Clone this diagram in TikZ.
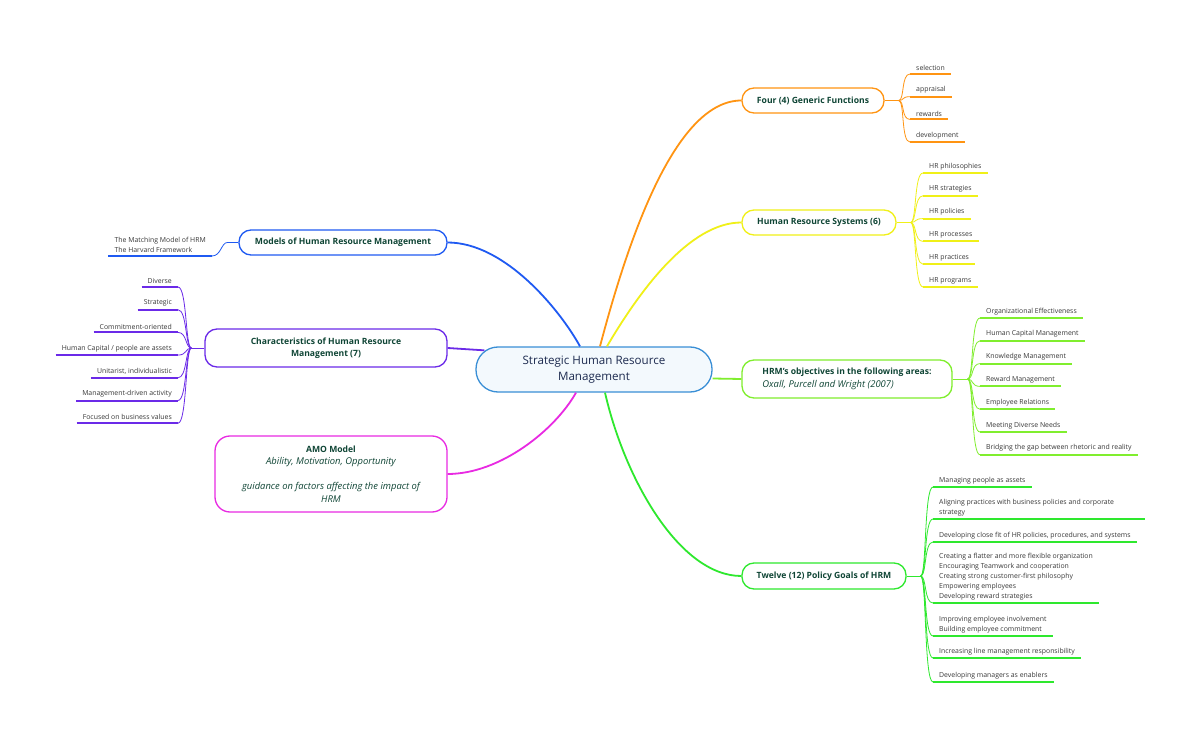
\documentclass[tikz,border=0pt]{standalone}
\usepackage{fontspec}
\setmainfont{Open Sans}
\usetikzlibrary{calc}

\definecolor{cOrange}{HTML}{FF9412}
\definecolor{cYellow}{HTML}{F0F018}
\definecolor{cLime}{HTML}{80EE2E}
\definecolor{cGreen}{HTML}{2EE82E}
\definecolor{cBlue}{HTML}{1F5AF2}
\definecolor{cPurple}{HTML}{6B2AE8}
\definecolor{cMagenta}{HTML}{E82AE2}
\definecolor{cCenter}{HTML}{3A8FD6}
\definecolor{cCenterFill}{HTML}{F3F9FD}
\definecolor{cCenterTxt}{HTML}{1C2A4F}
\definecolor{cTopicTxt}{HTML}{0F4535}
\definecolor{cLeafTxt}{HTML}{3A3A3A}

\newcommand\subtxt{\fontsize{9.4}{12.5}\selectfont\mdseries\itshape}

\tikzset{
  topic/.style={draw, line width=1.3pt, rounded corners=12pt, fill=white, text=cTopicTxt,
    font=\fontsize{8.6}{12.5}\selectfont\bfseries, align=center, inner sep=0pt, minimum height=25pt},
  leafR/.style={anchor=south west, inner xsep=6pt, inner ysep=3pt, text=cLeafTxt,
    font=\fontsize{6.9}{9.8}\selectfont, align=left},
  leafL/.style={leafR, anchor=south east, align=right},
  twig/.style={line width=0.8pt},
  uline/.style={line width=2pt},
  limb/.style={line width=1.8pt}
}

\begin{document}
\begin{tikzpicture}[x=1pt,y=-1pt]
	%%%%% START %%%%%
	\useasboundingbox[fill=white] (0,0) rectangle (1200,738);
	
	\node[draw=cCenter, fill=cCenterFill, line width=1.3pt, rounded corners=22pt, minimum width=236pt, minimum height=45pt,
	  font=\fontsize{11.6}{16}\selectfont, text=cCenterTxt, align=center] (shrm) at (594,369.5) {Strategic Human Resource\\Management};
	
	\node[topic, draw=cOrange, minimum width=142pt] (func) at (813,100.5) {Four (4) Generic Functions};
	\node[topic, draw=cYellow, minimum width=154pt] (hrs) at (819,222.5) {Human Resource Systems (6)};
	\node[topic, draw=cLime, minimum width=210pt, minimum height=38pt, align=left] (obj) at (847,379)
	  {HRM's objectives in the following areas:\\\subtxt Oxall, Purcell and Wright (2007)};
	\node[topic, draw=cGreen, minimum width=164pt, minimum height=26pt] (twelve) at (824,576) {Twelve (12) Policy Goals of HRM};
	\node[topic, draw=cBlue, minimum width=208pt] (models) at (343,242.5) {Models of Human Resource Management};
	\node[topic, draw=cPurple, minimum width=242pt, minimum height=38pt] (chars) at (326,348)
	  {Characteristics of Human Resource\\Management (7)};
	\node[topic, draw=cMagenta, minimum width=232pt, minimum height=76pt, rounded corners=15pt] (amo) at (331,474)
	  {AMO Model\\{\subtxt Ability, Motivation, Opportunity}\\[12.5pt]
	   {\subtxt guidance on factors affecting the impact of}\\{\subtxt HRM}};
	
	% limbs from the centre
	\draw[limb, cOrange] ([xshift=6pt]shrm.north) .. controls (628,240) and (675,100.5) .. (func.west);
	\draw[limb, cYellow] ([xshift=13pt]shrm.north) .. controls (640,290) and (690,222.5) .. (hrs.west);
	\draw[limb, cLime] ([yshift=-9pt]shrm.east) -- (obj.west);
	\draw[limb, cGreen] ([xshift=11pt]shrm.south) .. controls (625,480) and (680,576) .. (twelve.west);
	\draw[limb, cBlue] ([xshift=-14pt]shrm.north) .. controls (560,310) and (505,242.5) .. (models.east);
	\draw[limb, cPurple] (chars.east) -- ([shift={(9pt,-4pt)}]shrm.north west);
	\draw[limb, cMagenta] ([xshift=-18pt]shrm.south) .. controls (555,430) and (500,474) .. (amo.east);
	
	% four generic functions
	\coordinate (funcfork) at ([xshift=14pt]func.east);
	\draw[twig, cOrange] (func.east) -- (funcfork);
	\foreach \t [count=\i] in {selection, appraisal, rewards, development} {
	  \node[leafR] (func\i) at (910, 51.3+\i*22.7) {\t};
	  \draw[uline, cOrange] (func\i.south west) -- (func\i.south east);
	  \draw[twig, cOrange] (funcfork) .. controls +(6,0) and +(-9,0) .. (func\i.south west);
	}
	
	% human resource systems
	\coordinate (hrsfork) at ([xshift=14pt]hrs.east);
	\draw[twig, cYellow] (hrs.east) -- (hrsfork);
	\foreach \t [count=\i] in {HR philosophies, HR strategies, HR policies, HR processes, HR practices, HR programs} {
	  \node[leafR] (hrs\i) at (923, 150.2+\i*22.8) {\t};
	  \draw[uline, cYellow] (hrs\i.south west) -- (hrs\i.south east);
	  \draw[twig, cYellow] (hrsfork) .. controls +(6,0) and +(-9,0) .. (hrs\i.south west);
	}
	
	% objectives
	\coordinate (objfork) at ([xshift=15pt]obj.east);
	\draw[twig, cLime] (obj.east) -- (objfork);
	\foreach \t [count=\i] in {Organizational Effectiveness, Human Capital Management, Knowledge Management,
	    Reward Management, Employee Relations, Meeting Diverse Needs, Bridging the gap between rhetoric and reality} {
	  \node[leafR] (obj\i) at (980, 295.2+\i*22.8) {\t};
	  \draw[uline, cLime] (obj\i.south west) -- (obj\i.south east);
	  \draw[twig, cLime] (objfork) .. controls +(6,0) and +(-9,0) .. (obj\i.south west);
	}
	
	% twelve policy goals
	\coordinate (twfork) at ([xshift=14pt]twelve.east);
	\draw[twig, cGreen] (twelve.east) -- (twfork);
	\foreach \y/\t [count=\i] in {487/{Managing people as assets},
	    519/{\parbox{200pt}{Aligning practices with business policies and corporate\\strategy}},
	    542/{Developing close fit of HR policies, procedures, and systems},
	    603/{Creating a flatter and more flexible organization\\Encouraging Teamwork and cooperation\\Creating strong customer-first philosophy\\Empowering employees\\Developing reward strategies},
	    636/{Improving employee involvement\\Building employee commitment},
	    658/{Increasing line management responsibility},
	    682/{Developing managers as enablers}} {
	  \node[leafR] (tw\i) at (933, \y) {\t};
	  \draw[uline, cGreen] (tw\i.south west) -- (tw\i.south east);
	  \draw[twig, cGreen] (twfork) .. controls +(6,0) and +(-9,0) .. (tw\i.south west);
	}
	
	% models
	\coordinate (mdfork) at ([xshift=-11pt]models.west);
	\node[leafL, align=left] (mdl1) at (212,256) {The Matching Model of HRM\\The Harvard Framework};
	\draw[twig, cBlue] (models.west) -- (mdfork);
	\draw[uline, cBlue] (mdl1.south west) -- (mdl1.south east);
	\draw[twig, cBlue] (mdfork) .. controls +(-6,0) and +(9,0) .. (mdl1.south east);
	
	% characteristics
	\coordinate (chfork) at ([xshift=-13pt]chars.west);
	\draw[twig, cPurple] (chars.west) -- (chfork);
	\foreach \t [count=\i] in {Diverse, Strategic, Commitment-oriented, Human Capital / people are assets,
	    {Unitarist, individualistic}, Management-driven activity, Focused on business values} {
	  \node[leafL] (ch\i) at (178, 264.3+\i*22.7) {\t};
	  \draw[uline, cPurple] (ch\i.south west) -- (ch\i.south east);
	  \draw[twig, cPurple] (chfork) .. controls +(-6,0) and +(9,0) .. (ch\i.south east);
	}
	%%%%% END %%%%%
\end{tikzpicture}
\end{document}
